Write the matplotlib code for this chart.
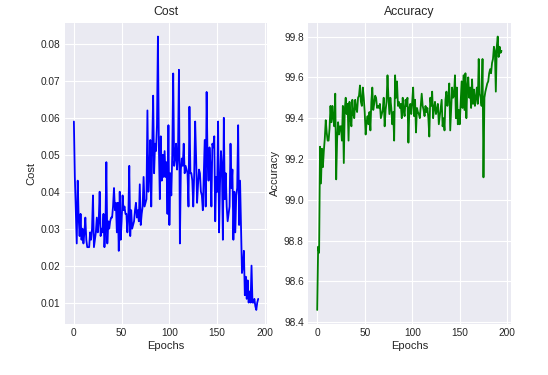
import numpy as np
import matplotlib
matplotlib.use("Agg")
import matplotlib.pyplot as plt

# cost per epoch
cost = [
    0.059, 0.044, 0.035, 0.026, 0.043, 0.033, 0.028, 0.034, 0.027, 0.030,
    0.026, 0.029, 0.033, 0.027, 0.025, 0.025, 0.025, 0.029, 0.027, 0.030,
    0.039, 0.025, 0.027, 0.029, 0.033, 0.029, 0.032, 0.040, 0.028, 0.030,
    0.029, 0.034, 0.025, 0.030, 0.048, 0.026, 0.032, 0.030, 0.032, 0.033,
    0.033, 0.036, 0.041, 0.035, 0.037, 0.029, 0.037, 0.024, 0.040, 0.027,
    0.032, 0.039, 0.035, 0.036, 0.034, 0.034, 0.029, 0.033, 0.047, 0.028,
    0.035, 0.030, 0.031, 0.032, 0.035, 0.037, 0.033, 0.035, 0.032, 0.042,
    0.031, 0.034, 0.036, 0.044, 0.036, 0.037, 0.038, 0.062, 0.040, 0.045,
    0.054, 0.036, 0.052, 0.066, 0.045, 0.053, 0.051, 0.058, 0.082, 0.052,
    0.038, 0.055, 0.043, 0.050, 0.044, 0.051, 0.044, 0.048, 0.034, 0.058,
    0.031, 0.045, 0.039, 0.050, 0.072, 0.047, 0.049, 0.053, 0.046, 0.050,
    0.073, 0.026, 0.046, 0.049, 0.047, 0.053, 0.045, 0.047, 0.046, 0.045,
    0.036, 0.063, 0.045, 0.045, 0.043, 0.036, 0.045, 0.059, 0.049, 0.037,
    0.042, 0.046, 0.045, 0.040, 0.039, 0.035, 0.044, 0.054, 0.036, 0.067,
    0.048, 0.043, 0.052, 0.047, 0.036, 0.053, 0.052, 0.055, 0.032, 0.044,
    0.040, 0.059, 0.029, 0.042, 0.051, 0.047, 0.027, 0.060, 0.038, 0.045,
    0.036, 0.032, 0.034, 0.036, 0.053, 0.041, 0.046, 0.027, 0.040, 0.029,
    0.039, 0.041, 0.058, 0.031, 0.043, 0.030, 0.018, 0.020, 0.024, 0.012,
    0.017, 0.011, 0.016, 0.010, 0.013, 0.010, 0.020, 0.010, 0.010, 0.011,
    0.009, 0.008, 0.010, 0.011,
]

# accuracy per epoch (%)
accuracy = [
    98.46, 98.77, 98.74, 99.26, 99.08, 99.25, 99.16, 99.24, 99.30, 99.39,
    99.33, 99.29, 99.29, 99.35, 99.46, 99.38, 99.46, 99.40, 99.36, 99.52,
    99.10, 99.30, 99.38, 99.32, 99.36, 99.36, 99.29, 99.46, 99.18, 99.44,
    99.50, 99.42, 99.47, 99.29, 99.48, 99.40, 99.36, 99.49, 99.42, 99.40,
    99.49, 99.45, 99.43, 99.50, 99.51, 99.56, 99.48, 99.46, 99.55, 99.50,
    99.43, 99.32, 99.38, 99.41, 99.37, 99.43, 99.34, 99.48, 99.55, 99.44,
    99.47, 99.51, 99.50, 99.45, 99.46, 99.45, 99.47, 99.40, 99.42, 99.44,
    99.50, 99.36, 99.44, 99.48, 99.61, 99.50, 99.42, 99.50, 99.45, 99.37,
    99.43, 99.29, 99.61, 99.50, 99.58, 99.46, 99.48, 99.45, 99.47, 99.40,
    99.50, 99.44, 99.41, 99.49, 99.46, 99.50, 99.28, 99.45, 99.47, 99.42,
    99.48, 99.55, 99.41, 99.49, 99.33, 99.45, 99.43, 99.42, 99.40, 99.46,
    99.52, 99.46, 99.44, 99.41, 99.46, 99.43, 99.45, 99.40, 99.31, 99.50,
    99.46, 99.53, 99.40, 99.45, 99.48, 99.42, 99.44, 99.47, 99.37, 99.41,
    99.45, 99.49, 99.36, 99.40, 99.34, 99.49, 99.53, 99.46, 99.50, 99.57,
    99.34, 99.45, 99.55, 99.50, 99.51, 99.61, 99.40, 99.55, 99.37, 99.44,
    99.37, 99.48, 99.58, 99.45, 99.61, 99.44, 99.62, 99.40, 99.56, 99.60,
    99.50, 99.55, 99.45, 99.59, 99.47, 99.54, 99.46, 99.50, 99.55, 99.47,
    99.69, 99.52, 99.50, 99.46, 99.69, 99.11, 99.50, 99.53, 99.55, 99.57,
    99.58, 99.62, 99.64, 99.62, 99.67, 99.69, 99.75, 99.73, 99.53, 99.75,
    99.80, 99.70, 99.75, 99.72, 99.73,
]

x_ticks = [0, 50, 100, 150, 200]
cost_ticks = [0.01, 0.02, 0.03, 0.04, 0.05, 0.06, 0.07, 0.08]
acc_ticks = [98.4, 98.6, 98.8, 99.0, 99.2, 99.4, 99.6, 99.8]

plt.style.use('seaborn-v0_8-darkgrid')
plt.rcParams['font.family'] = ['Liberation Sans', 'DejaVu Sans']
plt.rcParams['xtick.labelsize'] = 7.3
plt.rcParams['ytick.labelsize'] = 7.3
plt.rcParams['axes.labelsize'] = 8
plt.rcParams['axes.titlesize'] = 8.8

fig, (ax1, ax2) = plt.subplots(1, 2, figsize=(5.48, 3.75), dpi=100)
fig.subplots_adjust(left=0.118, right=0.932, bottom=0.137, top=0.939, wspace=0.2)

ax1.plot(np.arange(len(cost)), cost, color='blue', linewidth=1.3)
ax1.set_title('Cost')
ax1.set_xlabel('Epochs', labelpad=2)
ax1.set_ylabel('Cost', labelpad=3)
ax1.set_xticks(x_ticks)
ax1.set_yticks(cost_ticks)
ax1.set_yticklabels([f'{t:.2f}' for t in cost_ticks])

ax2.plot(np.arange(len(accuracy)), accuracy, color='green', linewidth=1.3)
ax2.set_title('Accuracy')
ax2.set_xlabel('Epochs', labelpad=2)
ax2.set_ylabel('Accuracy', labelpad=3)
ax2.set_xticks(x_ticks)
ax2.set_yticks(acc_ticks)
ax2.set_yticklabels([f'{t:.1f}' for t in acc_ticks])

for ax in (ax1, ax2):
    ax.tick_params(pad=3)

fig.savefig('out.png', dpi=100)
